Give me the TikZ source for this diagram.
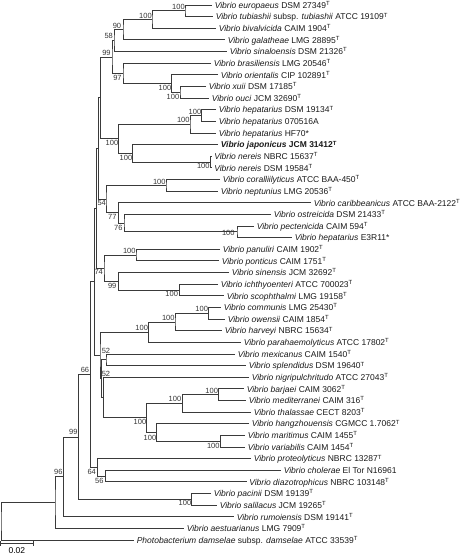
\documentclass[tikz,border=0pt]{standalone}
\usepackage{fontspec}
\setmainfont{Liberation Sans}
\definecolor{treecol}{HTML}{3A3A3A}
\definecolor{bscol}{HTML}{333333}
\newcommand\tT{\textsuperscript{T}}
\begin{document}
\begin{tikzpicture}[x=1pt,y=-1pt,
  br/.style={draw=treecol,line width=0.8pt},
  leaf/.style={anchor=west,inner xsep=2.6pt,inner ysep=0pt,text height=6.6pt,text depth=0pt,font=\fontsize{8.5}{10}\selectfont,text=black!90},
  bs/.style={font=\fontsize{7.5}{8}\selectfont,text=bscol,inner sep=0pt}]
\useasboundingbox (0,0) rectangle (474,555);
% leaves
\node[leaf] (l1) at (212,5.00) {\textit{Vibrio europaeus} DSM 27349\tT};
\node[leaf] (l2) at (213,16.63) {\textit{Vibrio tubiashii} subsp. \textit{tubiashii} ATCC 19109\tT};
\node[leaf] (l3) at (216,28.26) {\textit{Vibrio bivalvicida} CAIM 1904\tT};
\node[leaf] (l4) at (225,39.89) {\textit{Vibrio galatheae} LMG 28895\tT};
\node[leaf] (l5) at (227,51.52) {\textit{Vibrio sinaloensis} DSM 21326\tT};
\node[leaf] (l6) at (211,63.15) {\textit{Vibrio brasiliensis} LMG 20546\tT};
\node[leaf] (l7) at (218,74.78) {\textit{Vibrio orientalis} CIP 102891\tT};
\node[leaf] (l8) at (206,86.41) {\textit{Vibrio xuii} DSM 17185\tT};
\node[leaf] (l9) at (209,98.04) {\textit{Vibrio ouci} JCM 32690\tT};
\node[leaf] (l10) at (216,109.67) {\textit{Vibrio hepatarius} DSM 19134\tT};
\node[leaf] (l11) at (216,121.30) {\textit{Vibrio hepatarius} 070516A};
\node[leaf] (l12) at (216,132.93) {\textit{Vibrio hepatarius} HF70*};
\node[leaf] (l13) at (218,144.56) {\textbf{\textit{Vibrio japonicus} JCM 31412\tT}};
\node[leaf] (l14) at (211.5,156.19) {\textit{Vibrio nereis} NBRC 15637\tT};
\node[leaf] (l15) at (211.5,167.82) {\textit{Vibrio nereis} DSM 19584\tT};
\node[leaf] (l16) at (220,179.45) {\textit{Vibrio coralliilyticus} ATCC BAA-450\tT};
\node[leaf] (l17) at (218,191.08) {\textit{Vibrio neptunius} LMG 20536\tT};
\node[leaf] (l18) at (311,202.71) {\textit{Vibrio caribbeanicus} ATCC BAA-2122\tT};
\node[leaf] (l19) at (271,214.34) {\textit{Vibrio ostreicida} DSM 21433\tT};
\node[leaf] (l20) at (254,225.97) {\textit{Vibrio pectenicida} CAIM 594\tT};
\node[leaf] (l21) at (292,237.60) {\textit{Vibrio hepatarius} E3R11*};
\node[leaf] (l22) at (220,249.23) {\textit{Vibrio panuliri} CAIM 1902\tT};
\node[leaf] (l23) at (219,260.86) {\textit{Vibrio ponticus} CAIM 1751\tT};
\node[leaf] (l24) at (229,272.49) {\textit{Vibrio sinensis} JCM 32692\tT};
\node[leaf] (l25) at (218,284.12) {\textit{Vibrio ichthyoenteri} ATCC 700023\tT};
\node[leaf] (l26) at (224,295.75) {\textit{Vibrio scophthalmi} LMG 19158\tT};
\node[leaf] (l27) at (221,307.38) {\textit{Vibrio communis} LMG 25430\tT};
\node[leaf] (l28) at (225,319.01) {\textit{Vibrio owensii} CAIM 1854\tT};
\node[leaf] (l29) at (222,330.64) {\textit{Vibrio harveyi} NBRC 15634\tT};
\node[leaf] (l30) at (241,342.27) {\textit{Vibrio parahaemolyticus} ATCC 17802\tT};
\node[leaf] (l31) at (235,353.90) {\textit{Vibrio mexicanus} CAIM 1540\tT};
\node[leaf] (l32) at (246,365.53) {\textit{Vibrio splendidus} DSM 19640\tT};
\node[leaf] (l33) at (249,377.16) {\textit{Vibrio nigripulchritudo} ATCC 27043\tT};
\node[leaf] (l34) at (244,388.79) {\textit{Vibrio barjaei} CAIM 3062\tT};
\node[leaf] (l35) at (246,400.42) {\textit{Vibrio mediterranei} CAIM 316\tT};
\node[leaf] (l36) at (251,412.05) {\textit{Vibrio thalassae} CECT 8203\tT};
\node[leaf] (l37) at (249,423.68) {\textit{Vibrio hangzhouensis} CGMCC 1.7062\tT};
\node[leaf] (l38) at (245,435.31) {\textit{Vibrio maritimus} CAIM 1455\tT};
\node[leaf] (l39) at (245,446.94) {\textit{Vibrio variabilis} CAIM 1454\tT};
\node[leaf] (l40) at (251,458.57) {\textit{Vibrio proteolyticus} NBRC 13287\tT};
\node[leaf] (l41) at (281,470.20) {\textit{Vibrio cholerae} El Tor N16961};
\node[leaf] (l42) at (246.5,481.83) {\textit{Vibrio diazotrophicus} NBRC 103148\tT};
\node[leaf] (l43) at (211,493.46) {\textit{Vibrio pacinii} DSM 19139\tT};
\node[leaf] (l44) at (217,505.09) {\textit{Vibrio salilacus} JCM 19265\tT};
\node[leaf] (l45) at (234,516.72) {\textit{Vibrio rumoiensis} DSM 19141\tT};
\node[leaf] (l46) at (184,528.35) {\textit{Vibrio aestuarianus} LMG 7909\tT};
\node[leaf] (l47) at (134,539.98) {\textit{Photobacterium damselae} subsp. \textit{damselae} ATCC 33539\tT};
% internal nodes
\coordinate (A) at (185,10.82);
\coordinate (B) at (152,19.54);
\coordinate (C) at (123,29.72);
\coordinate (D) at (114,40.62);
\coordinate (I) at (180,92.23);
\coordinate (H) at (171.5,83.50);
\coordinate (G) at (123,73.33);
\coordinate (E) at (112,56.97);
\coordinate (K) at (201.5,115.49);
\coordinate (L) at (190,124.21);
\coordinate (O) at (210.7,162.01);
\coordinate (N) at (132.3,153.28);
\coordinate (M) at (118.3,138.75);
\coordinate (J) at (100.8,97.86);
\coordinate (P) at (166,185.27);
\coordinate (S) at (237,231.79);
\coordinate (R) at (124,223.06);
\coordinate (Q) at (118.3,212.89);
\coordinate (T) at (106,199.08);
\coordinate (V) at (98.7,148.47);
\coordinate (AA) at (136,255.05);
\coordinate (CC) at (179.3,289.94);
\coordinate (BB) at (118.3,281.21);
\coordinate (Y) at (104,268.13);
\coordinate (W) at (96.7,208.30);
\coordinate (DD) at (208.3,313.20);
\coordinate (EE) at (175,321.92);
\coordinate (FF) at (148.3,332.10);
\coordinate (Fa) at (106,359.72);
\coordinate (II) at (218.3,394.61);
\coordinate (JJ) at (182.7,403.33);
\coordinate (LL) at (220.7,441.13);
\coordinate (KK) at (156.7,432.41);
\coordinate (HH) at (146.7,417.87);
\coordinate (Fb) at (103.3,397.52);
\coordinate (MM) at (101.5,378.62);
\coordinate (GG) at (100,355.36);
\coordinate (U1) at (94.3,281.83);
\coordinate (SS) at (105.7,476.02);
\coordinate (RR) at (97.3,467.30);
\coordinate (QQ) at (90.7,374.57);
\coordinate (PP) at (191.7,499.28);
\coordinate (OO) at (78.3,436.93);
\coordinate (TT) at (63.3,476.83);
\coordinate (VV) at (55,502.59);
\coordinate (R0) at (1,521.29);
% branches
\draw[br] (l1.west) -| (A) |- (l2.west);
\draw[br] (A) -| (B) |- (l3.west);
\draw[br] (B) -| (C) |- (l4.west);
\draw[br] (C) -| (D) |- (l5.west);
\draw[br] (l8.west) -| (I) |- (l9.west);
\draw[br] (l7.west) -| (H) |- (I);
\draw[br] (l6.west) -| (G) |- (H);
\draw[br] (D) -| (E) |- (G);
\draw[br] (l10.west) -| (K) |- (l11.west);
\draw[br] (K) -| (L) |- (l12.west);
\draw[br] (l14.west) -| (O) |- (l15.west);
\draw[br] (l13.west) -| (N) |- (O);
\draw[br] (L) -| (M) |- (N);
\draw[br] (E) -| (J) |- (M);
\draw[br] (l16.west) -| (P) |- (l17.west);
\draw[br] (l20.west) -| (S) |- (l21.west);
\draw[br] (l19.west) -| (R) |- (S);
\draw[br] (l18.west) -| (Q) |- (R);
\draw[br] (P) -| (T) |- (Q);
\draw[br] (J) -| (V) |- (T);
\draw[br] (l22.west) -| (AA) |- (l23.west);
\draw[br] (l25.west) -| (CC) |- (l26.west);
\draw[br] (l24.west) -| (BB) |- (CC);
\draw[br] (AA) -| (Y) |- (BB);
\draw[br] (V) -| (W) |- (Y);
\draw[br] (l27.west) -| (DD) |- (l28.west);
\draw[br] (DD) -| (EE) |- (l29.west);
\draw[br] (EE) -| (FF) |- (l30.west);
\draw[br] (l31.west) -| (Fa) |- (l32.west);
\draw[br] (l34.west) -| (II) |- (l35.west);
\draw[br] (II) -| (JJ) |- (l36.west);
\draw[br] (l38.west) -| (LL) |- (l39.west);
\draw[br] (l37.west) -| (KK) |- (LL);
\draw[br] (JJ) -| (HH) |- (KK);
\draw[br] (l33.west) -| (Fb) |- (HH);
\draw[br] (Fa) -| (MM) |- (Fb);
\draw[br] (FF) -| (GG) |- (MM);
\draw[br] (W) -| (U1) |- (GG);
\draw[br] (l41.west) -| (SS) |- (l42.west);
\draw[br] (l40.west) -| (RR) |- (SS);
\draw[br] (U1) -| (QQ) |- (RR);
\draw[br] (l43.west) -| (PP) |- (l44.west);
\draw[br] (QQ) -| (OO) |- (PP);
\draw[br] (OO) -| (TT) |- (l45.west);
\draw[br] (TT) -| (VV) |- (l46.west);
\draw[br] (VV) -| (R0) |- (l47.west);
% bootstrap values
\node[bs] (bA) at (178.5,6.7) {100};
\node[bs] (bB) at (145.5,15.7) {100};
\node[bs] (bC) at (117,25.7) {90};
\node[bs] (bD) at (108.7,36) {58};
\node[bs] (bE) at (106.5,52.7) {99};
\node[bs] (bG) at (117.5,78.3) {97};
\node[bs] (bH) at (165,88.3) {100};
\node[bs] (bI) at (173,96.7) {100};
\node[bs] (bK) at (195,111.7) {100};
\node[bs] (bL) at (183.3,120) {100};
\node[bs] (bM) at (112,143.3) {100};
\node[bs] (bN) at (126,158) {100};
\node[bs] (bO) at (203.3,166) {100};
\node[bs] (bP) at (159.3,181.7) {100};
\node[bs] (bT) at (101.7,202.7) {54};
\node[bs] (bQ) at (112.3,217.3) {77};
\node[bs] (bR) at (118.3,227.7) {76};
\node[bs] (bS) at (228.3,233.3) {100};
\node[bs] (bAA) at (129.3,250.7) {100};
\node[bs] (bY) at (98.7,272.3) {74};
\node[bs] (bBB) at (112.2,285.5) {99};
\node[bs] (bCC) at (171.7,294) {100};
\node[bs] (bDD) at (201.7,309.3) {100};
\node[bs] (bEE) at (168.3,318.3) {100};
\node[bs] (bFF) at (141.7,328.3) {100};
\node[bs] (bFa) at (106,350.7) {52};
\node[bs] (bQQ) at (85,370) {66};
\node[bs] (bFb) at (106,374.3) {52};
\node[bs] (bII) at (211.7,390.5) {100};
\node[bs] (bJJ) at (175,399) {100};
\node[bs] (bHH) at (140,421.7) {100};
\node[bs] (bOO) at (73.3,432.3) {99};
\node[bs] (bKK) at (150,437.7) {100};
\node[bs] (bLL) at (213.3,446) {100};
\node[bs] (bTT) at (58.3,472.3) {96};
\node[bs] (bRR) at (91.7,471.7) {64};
\node[bs] (bSS) at (99.3,480.7) {56};
\node[bs] (bPP) at (185,503.3) {100};
% scale bar
\coordinate (sb1) at (0.6,543.5);
\coordinate (sb2) at (33.5,543.5);
\draw[br] (sb1) -- (sb2);
\draw[br] ([yshift=-2.2pt]sb1) -- ([yshift=2.2pt]sb1);
\draw[br] ([yshift=-2.2pt]sb2) -- ([yshift=2.2pt]sb2);
\node[font=\fontsize{8.5}{10}\selectfont,inner sep=0pt] (sbl) at (16.8,551) {0.02};
\end{tikzpicture}
\end{document}
